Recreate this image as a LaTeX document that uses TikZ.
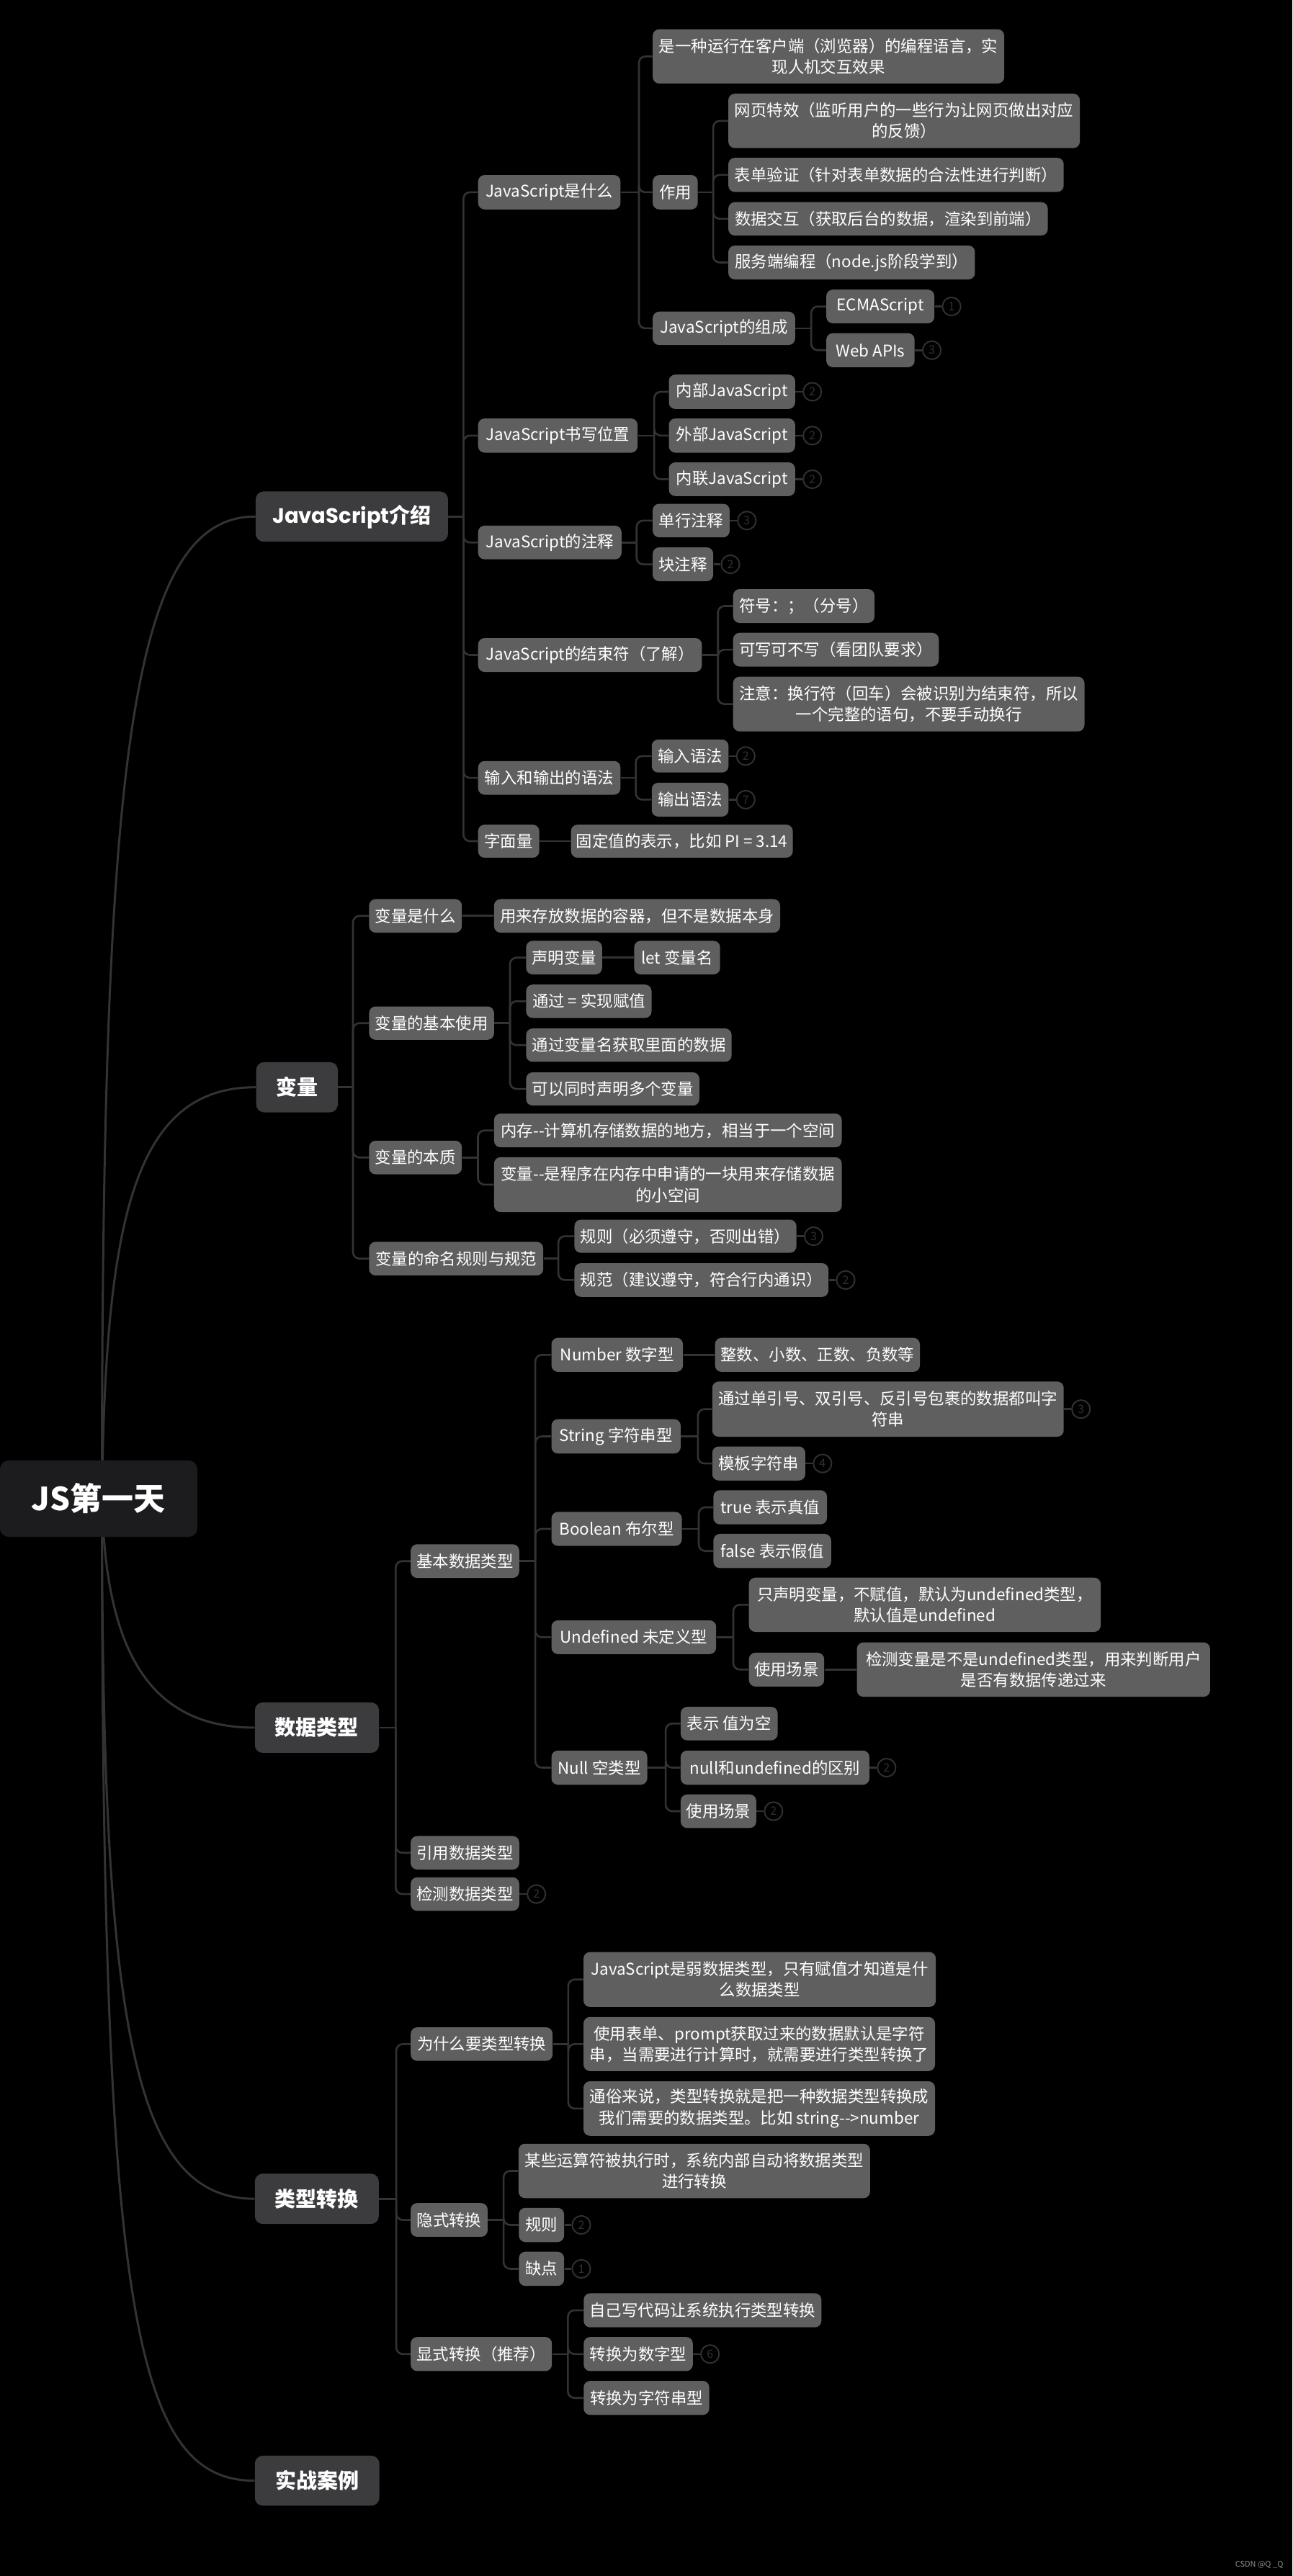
\documentclass[tikz,border=0pt]{standalone}
\usepackage{fontspec}
\setmainfont{Noto Sans CJK SC}
\newfontfamily\popp{Poppins}
\usetikzlibrary{calc}
\definecolor{subg}{HTML}{5F5F5F}
\definecolor{maing}{HTML}{3C3C3E}
\definecolor{rootg}{HTML}{1C1C1E}
\definecolor{lineg}{HTML}{333333}
\definecolor{badgeg}{HTML}{303030}
\definecolor{wmg}{HTML}{8C8C8C}
\pgfdeclarelayer{bg}
\pgfsetlayers{bg,main}
\tikzset{
  sub/.style={rectangle, rounded corners=4.5pt, fill=subg, text=white, inner sep=0pt, align=center, font=\fontsize{11.2pt}{14.6pt}\selectfont},
  mainbox/.style={rectangle, rounded corners=5.5pt, fill=maing, text=white, inner sep=0pt, align=center, font=\fontsize{14.5pt}{17pt}\selectfont\bfseries},
  rootbox/.style={rectangle, rounded corners=6pt, fill=rootg, text=white, inner sep=0pt, align=center, font=\fontsize{22pt}{26pt}\selectfont\bfseries},
  conn/.style={draw=lineg, line width=1.3pt},
  rootconn/.style={draw=lineg, line width=1.5pt},
  badge/.style={circle, draw=badgeg, line width=1pt, text=badgeg, minimum size=12.6pt, inner sep=0pt, font=\fontsize{8pt}{8pt}\selectfont},
  wm/.style={text=wmg, inner sep=0pt, font=\fontsize{5.5pt}{6pt}\selectfont},
}
\newcommand\bx[7][sub]{%
  \pgfmathsetmacro\bxw{(#4-#3)*1.1412}%
  \pgfmathsetmacro\bxh{(#6-#5)*1.1412}%
  \node[#1, minimum width=\bxw pt, minimum height=\bxh pt] (#2) at ({(#3+#4)/2},{(#5+#6)/2}) {#7};}
\newcommand\branch[3]{%
  \coordinate (v#1) at (#2,0);
  \coordinate (j#1) at (#1.east -| v#1);
  \draw[conn] (#1.east) -- (j#1);
  \foreach \ch in {#3}{\draw[conn,rounded corners=4.5pt] (j#1) |- (\ch.west);}
}
\newcommand\link[2]{\draw[conn] (#1.east) -- (#2.west);}
\newcommand\bdg[2]{%
  \node[badge] (bd#1) at ([xshift=11.75pt]#1.east) {#2};
  \draw[conn] (#1.east) -- (bd#1.west);}
\begin{document}
\begin{tikzpicture}[x=1.1412pt,y=-1.1412pt]
\useasboundingbox (0,0) rectangle (786.03,1567.2);
% root and main topics
\bx[rootbox]{root}{0}{120}{888.5}{935}{JS第一天}
\bx[mainbox]{m1}{155.5}{272.5}{299}{329.5}{{\popp JavaScript}介绍}
\bx[mainbox]{m2}{155.8}{205.5}{646.2}{676.7}{变量}
\bx[mainbox]{m3}{155}{230.5}{1035.7}{1066.4}{数据类型}
\bx[mainbox]{m4}{155}{230.4}{1322.4}{1353}{类型转换}
\bx[mainbox]{m5}{155}{230.7}{1494}{1524.4}{实战案例}
% JavaScript介绍
\bx{a1}{290.8}{377.4}{106.5}{127.4}{JavaScript是什么}
\bx{a2}{290.8}{387.8}{254.6}{275.4}{JavaScript书写位置}
\bx{a3}{290.8}{378}{319.8}{340.3}{JavaScript的注释}
\bx{a4}{290.8}{426.9}{388.2}{408.8}{JavaScript的结束符（了解）}
\bx{a5}{290.8}{377.4}{463}{483.5}{输入和输出的语法}
\bx{a6}{290.8}{328}{501.7}{521.8}{字面量}
\bx{a11}{397}{610.8}{17.8}{50.8}{是一种运行在客户端（浏览器）的编程语言，实\\现人机交互效果}
\bx{a12}{397}{424.4}{106.5}{127.4}{作用}
\bx{a13}{397}{483.6}{189.6}{209.9}{JavaScript的组成}
\bx{a121}{443}{656.8}{57}{90.1}{网页特效（监听用户的一些行为让网页做出对应\\的反馈）}
\bx{a122}{443}{647}{96}{116.8}{表单验证（针对表单数据的合法性进行判断）}
\bx{a123}{443}{637.3}{123}{143.3}{数据交互（获取后台的数据，渲染到前端）}
\bx{a124}{443}{593}{149.4}{170}{服务端编程（node.js阶段学到）}
\bx{a131}{502.6}{568.3}{176.2}{196.7}{ECMAScript}
\bx{a132}{502.6}{556.3}{202.7}{223.4}{Web APIs}
\bx{a21}{406.8}{483.6}{227.9}{248.8}{内部JavaScript}
\bx{a22}{406.8}{483.6}{254.6}{275.4}{外部JavaScript}
\bx{a23}{406.8}{483.6}{281.3}{301.8}{内联JavaScript}
\bx{a31}{397}{443.8}{306.5}{326.9}{单行注释}
\bx{a32}{397}{433.8}{333}{353.6}{块注释}
\bx{a41}{445.9}{531.9}{358.4}{379}{符号：；（分号）}
\bx{a42}{445.9}{571}{385}{405.5}{可写可不写（看团队要求）}
\bx{a43}{445.9}{659.6}{411.7}{445}{注意：换行符（回车）会被识别为结束符，所以\\一个完整的语句，不要手动换行}
\bx{a51}{396.4}{443.1}{449.9}{470}{输入语法}
\bx{a52}{396.4}{443.1}{476.2}{496.8}{输出语法}
\bx{a61}{347.3}{482.2}{501.7}{521.8}{固定值的表示，比如 PI = 3.14}
% 变量
\bx{b1}{224.5}{280.9}{547}{567.4}{变量是什么}
\bx{b2}{224.5}{300.5}{612.3}{632.6}{变量的基本使用}
\bx{b3}{224.5}{280.9}{694}{714.4}{变量的本质}
\bx{b4}{224.5}{330.4}{755.5}{776}{变量的命名规则与规范}
\bx{b11}{300.5}{474.5}{547}{567.4}{用来存放数据的容器，但不是数据本身}
\bx{b21}{320}{366.2}{572.4}{592.8}{声明变量}
\bx{b211}{385.7}{438}{572.4}{592.8}{let 变量名}
\bx{b22}{320}{396.3}{599}{619.3}{通过 = 实现赋值}
\bx{b23}{320}{445}{625.7}{646}{通过变量名获取里面的数据}
\bx{b24}{320}{425.4}{652.4}{672.6}{可以同时声明多个变量}
\bx{b31}{300.5}{512}{677.5}{698}{内存-\kern0pt-计算机存储数据的地方，相当于一个空间}
\bx{b32}{300.5}{512}{704}{737.4}{变量-\kern0pt-是程序在内存中申请的一块用来存储数据\\的小空间}
\bx{b41}{349.4}{484.4}{742}{762.2}{规则（必须遵守，否则出错）}
\bx{b42}{349.4}{503.9}{768.5}{789}{规范（建议遵守，符合行内通识）}
% 数据类型
\bx{c1}{249.8}{315.8}{939.5}{960}{基本数据类型}
\bx{c2}{249.8}{315.8}{1117}{1137.4}{引用数据类型}
\bx{c3}{249.8}{315.8}{1142.1}{1162.5}{检测数据类型}
\bx{c11}{335.4}{415.4}{813.9}{834.6}{Number 数字型}
\bx{c111}{434.9}{559.5}{813.9}{834.6}{整数、小数、正数、负数等}
\bx{c12}{335.4}{414}{863.4}{884.3}{String 字符串型}
\bx{c121}{433.2}{647}{840.5}{874.1}{通过单引号、双引号、反引号包裹的数据都叫字\\符串}
\bx{c122}{433.2}{489.8}{880}{900.7}{模板字符串}
\bx{c13}{335.4}{414.7}{919.8}{940.5}{Boolean 布尔型}
\bx{c131}{433.9}{503}{906.6}{927.4}{true 表示真值}
\bx{c132}{433.9}{505.5}{933.2}{954}{false 表示假值}
\bx{c14}{335.4}{435.6}{985.8}{1006.3}{Undefined 未定义型}
\bx{c141}{455.5}{669.5}{959.8}{992.8}{只声明变量，不赋值，默认为undefined类型，\\默认值是undefined}
\bx{c142}{455.5}{501.3}{1005.5}{1026}{使用场景}
\bx{c1421}{521.2}{736}{999.2}{1032.3}{检测变量是不是undefined类型，用来判断用户\\是否有数据传递过来}
\bx{c15}{335.4}{393.7}{1065}{1085.8}{Null 空类型}
\bx{c151}{414}{473}{1038.4}{1058.8}{表示 值为空}
\bx{c152}{414}{528.8}{1065}{1085.8}{null和undefined的区别}
\bx{c153}{414}{460}{1091.7}{1112.1}{使用场景}
% 类型转换
\bx{d1}{249.8}{336.1}{1233.4}{1253.8}{为什么要类型转换}
\bx{d2}{249.8}{296.6}{1340.3}{1360.8}{隐式转换}
\bx{d3}{249.8}{335.7}{1421.8}{1442.5}{显式转换（推荐）}
\bx{d11}{354.9}{569.2}{1187.6}{1221}{JavaScript是弱数据类型，只有赋值才知道是什\\么数据类型}
\bx{d12}{354.9}{568.7}{1227.1}{1260}{使用表单、prompt获取过来的数据默认是字符\\串，当需要进行计算时，就需要进行类型转换了}
\bx{d13}{354.9}{568.7}{1266.2}{1299.4}{通俗来说，类型转换就是把一种数据类型转换成\\我们需要的数据类型。比如 string-\kern0pt->number}
\bx{d21}{315.4}{529.2}{1304.2}{1337.3}{某些运算符被执行时，系统内部自动将数据类型\\进行转换}
\bx{d22}{315.6}{343.1}{1343.2}{1364}{规则}
\bx{d23}{315.6}{343.1}{1369.9}{1390.7}{缺点}
\bx{d31}{355}{499.6}{1395.2}{1415.9}{自己写代码让系统执行类型转换}
\bx{d32}{355}{421.4}{1421.8}{1442.5}{转换为数字型}
\bx{d33}{355}{431.4}{1448.5}{1469.2}{转换为字符串型}
% watermark
\node[wm] (wmk) at (765.9,1560.5) {CSDN @Q \_Q};
% connectors
\branch{m1}{281.9}{a1,a2,a3,a4,a5,a6}
\branch{a1}{388.6}{a11,a12,a13}
\branch{a12}{433.8}{a121,a122,a123,a124}
\branch{a13}{493.4}{a131,a132}
\branch{a2}{397.9}{a21,a22,a23}
\branch{a3}{387.2}{a31,a32}
\branch{a4}{436.7}{a41,a42,a43}
\branch{a5}{386.7}{a51,a52}
\link{a6}{a61}
\branch{m2}{214.7}{b1,b2,b3,b4}
\link{b1}{b11}
\branch{b2}{310.2}{b21,b22,b23,b24}
\link{b21}{b211}
\branch{b3}{290.7}{b31,b32}
\branch{b4}{339.6}{b41,b42}
\branch{m3}{240.7}{c1,c2,c3}
\branch{c1}{325.6}{c11,c12,c13,c14,c15}
\link{c11}{c111}
\branch{c12}{424.5}{c121,c122}
\branch{c13}{425}{c131,c132}
\branch{c14}{446}{c141,c142}
\link{c142}{c1421}
\branch{c15}{404.9}{c151,c152,c153}
\branch{m4}{241}{d1,d2,d3}
\branch{d1}{345.6}{d11,d12,d13}
\branch{d2}{306.3}{d21,d22,d23}
\branch{d3}{345.4}{d31,d32,d33}
% badges
\bdg{a131}{1}\bdg{a132}{3}
\bdg{a21}{2}\bdg{a22}{2}\bdg{a23}{2}
\bdg{a31}{3}\bdg{a32}{2}
\bdg{a51}{2}\bdg{a52}{7}
\bdg{b41}{3}\bdg{b42}{2}
\bdg{c121}{3}\bdg{c122}{4}
\bdg{c152}{2}\bdg{c153}{2}\bdg{c3}{2}
\bdg{d22}{2}\bdg{d23}{1}\bdg{d32}{6}
% background and root curves
\begin{pgfonlayer}{bg}
\fill[black] (0,0) rectangle (786.03,1567.2);
\coordinate (rc) at (62,912);
\draw[rootconn] (rc) .. controls (62,470) and (78,314) .. (m1.west);
\draw[rootconn] (rc) .. controls (64,740) and (82,661.4) .. (m2.west);
\draw[rootconn] (rc) .. controls (64,1000) and (88,1051) .. (m3.west);
\draw[rootconn] (rc) .. controls (62,1230) and (80,1337.7) .. (m4.west);
\draw[rootconn] (rc) .. controls (62,1400) and (80,1509.2) .. (m5.west);
\end{pgfonlayer}
\end{tikzpicture}
\end{document}
